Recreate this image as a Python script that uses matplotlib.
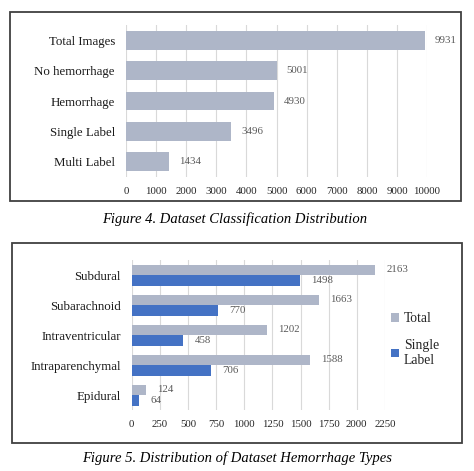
import numpy as np
import matplotlib
matplotlib.use("Agg")
import matplotlib.pyplot as plt
from matplotlib.patches import Rectangle

# Daten Figure 4
class_labels = ["Total Images", "No hemorrhage", "Hemorrhage", "Single Label", "Multi Label"]
class_counts = [9931, 5001, 4930, 3496, 1434]
class_ticks = [0, 1000, 2000, 3000, 4000, 5000, 6000, 7000, 8000, 9000, 10000]

# Daten Figure 5
type_labels = ["Subdural", "Subarachnoid", "Intraventricular", "Intraparenchymal", "Epidural"]
type_total = [2163, 1663, 1202, 1588, 124]
type_single = [1498, 770, 458, 706, 64]
type_ticks = [0, 250, 500, 750, 1000, 1250, 1500, 1750, 2000, 2250]

plt.rcParams['font.family'] = ['Liberation Serif', 'DejaVu Serif']

GRAY_BAR = "#aeb6c8"
BLUE_BAR = "#4472c4"
GRID = "#d9d9d9"
VAL = "#595959"

fig = plt.figure(figsize=(4.74, 4.71), dpi=100)

# Rahmen
for (l, b, w, h) in [(0.021, 0.573, 0.951, 0.401), (0.025, 0.059, 0.950, 0.425)]:
    fig.patches.append(Rectangle((l, b), w, h, transform=fig.transFigure,
                                 fill=False, edgecolor="#404040", linewidth=1.3))


def style_axes(ax, ticks, n):
    ax.set_xlim(ticks[0], ticks[-1])
    ax.set_xticks(ticks)
    ax.set_ylim(n - 0.5, -0.5)
    for s in ax.spines.values():
        s.set_visible(False)
    ax.grid(axis="x", color=GRID, linewidth=0.8)
    ax.set_axisbelow(True)
    ax.tick_params(axis="both", length=0)
    ax.tick_params(axis="x", labelsize=7.8, pad=7, labelcolor="#262626")
    ax.tick_params(axis="y", labelsize=9.3, pad=8, labelcolor="#1a1a1a")


# Figure 4
ax1 = fig.add_axes([0.266, 0.624, 0.635, 0.323])
y1 = np.arange(len(class_labels))
ax1.barh(y1, class_counts, height=0.62, color=GRAY_BAR)
ax1.set_yticks(y1)
ax1.set_yticklabels(class_labels)
style_axes(ax1, class_ticks, len(class_labels))
for yi, v in zip(y1, class_counts):
    ax1.annotate(str(v), (v, yi), xytext=(7, 0), textcoords="offset points",
                 va="center", ha="left", fontsize=7.8, color=VAL)
fig.text(0.496, 0.535, "Figure 4. Dataset Classification Distribution",
         ha="center", va="center", fontsize=10.5, style="italic")

# Figure 5
ax2 = fig.add_axes([0.278, 0.1295, 0.534, 0.318])
y2 = np.arange(len(type_labels))
h = 0.35
ax2.barh(y2 - h / 2, type_total, height=h, color=GRAY_BAR, label="Total")
ax2.barh(y2 + h / 2, type_single, height=h, color=BLUE_BAR, label="Single\nLabel")
ax2.set_yticks(y2)
ax2.set_yticklabels(type_labels)
style_axes(ax2, type_ticks, len(type_labels))
for yi, v in zip(y2, type_total):
    ax2.annotate(str(v), (v, yi - h / 2), xytext=(8, 0), textcoords="offset points",
                 va="center", ha="left", fontsize=7.8, color=VAL)
for yi, v in zip(y2, type_single):
    ax2.annotate(str(v), (v, yi + h / 2), xytext=(8, 0), textcoords="offset points",
                 va="center", ha="left", fontsize=7.8, color=VAL)
leg = fig.legend(loc="upper left", bbox_to_anchor=(0.825, 0.337), frameon=False,
                 fontsize=9.8, handlelength=0.55, handleheight=0.55, handletextpad=0.4,
                 labelspacing=1.0, borderaxespad=0, borderpad=0)
for t in leg.get_texts():
    t.set_color("#262626")
fig.text(0.5, 0.028, "Figure 5. Distribution of Dataset Hemorrhage Types",
         ha="center", va="center", fontsize=10.5, style="italic")

fig.savefig("out.png", dpi=100)
